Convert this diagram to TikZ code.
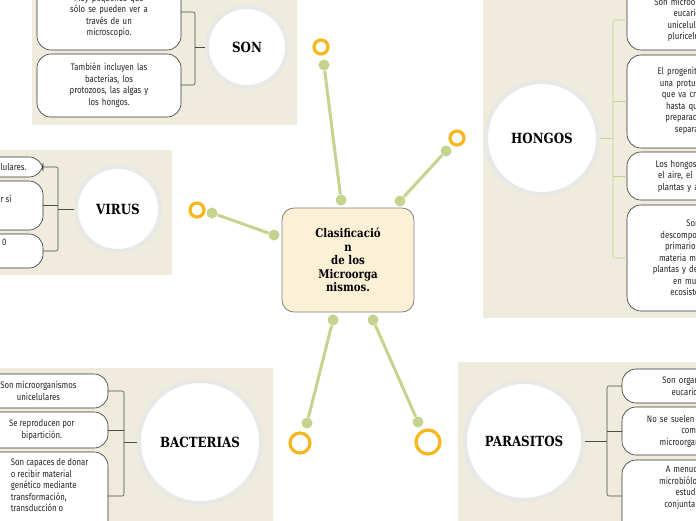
\documentclass[tikz,border=0pt]{standalone}
\usepackage{fontspec}
\setmainfont[FakeStretch=0.82]{Fira Sans}
\newfontfamily\headfont[FakeStretch=0.85]{DejaVu Serif}
\definecolor{panel}{HTML}{EFECDD}
\definecolor{cen}{HTML}{FCF0D6}
\definecolor{grn}{HTML}{C4D48F}
\definecolor{org}{HTML}{F7B61C}
\definecolor{ring}{HTML}{E8E8E6}
\tikzset{
 x=1pt,y=-1pt,
 pan/.style={fill=panel,draw=none},
 circ/.style={circle,fill=white,draw=ring,line width=4pt,minimum size=#1,font=\headfont\bfseries\fontsize{14}{14}\selectfont},
 tbox/.style={draw=black!80,fill=white,rounded corners=14pt,line width=0.6pt},
 tx/.style={align=center,font=\fontsize{9.5}{11.5}\selectfont,text=black!85},
 br/.style={draw=black!70,line width=0.6pt,rounded corners=2pt},
 brg/.style={draw=grn,line width=0.6pt,rounded corners=2pt},
 link/.style={draw=grn,line width=3pt},
 dot/.style={circle,fill=grn,inner sep=0,minimum size=11pt},
 orng/.style={circle,draw=org,line width=3.2pt,inner sep=0,minimum size=#1},
}
\begin{document}
\begin{tikzpicture}
\useasboundingbox (0,0) rectangle (696,520);
\clip (0,0) rectangle (696,520);
% SON
\fill[pan] (32,-5) rectangle (297,125);
\draw[tbox] (37,-40) rectangle (181,50);
\node[tx,text width=130pt] (s1) at (109,16) {Muy pequeños que\\sólo se pueden ver a\\través de un\\microscopio.};
\draw[tbox] (37,54) rectangle (181,117);
\node[tx,text width=130pt] (s2) at (109,85) {También incluyen las\\bacterias, los\\protozoos, las algas y\\los hongos.};
\node[circ=80pt] (son) at (247,47) {SON};
\draw[br] (181,12) -| (195,85) -- (181,85); \draw[br] (195,47) -- (son.west);
% VIRUS
\fill[pan] (0,150) rectangle (172,275);
\draw[tbox] (-100,157) rectangle (43,177);
\node[tx,anchor=east] at (30,167) {Son acelulares.};
\draw[tbox] (-100,181) rectangle (43,230);
\node[tx,anchor=east] at (15,205) {No se reproducen por sí\\solos, son};
\draw[tbox] (-100,234) rectangle (43,268);
\node[tx,anchor=east] at (10,243) {Contienen ADN o ARN, 0};
\node[circ=84pt] (virus) at (118,209) {VIRUS};
\draw[br] (43,167) -| (58,251) -- (43,251); \draw[br] (43,205) -- (58,205); \draw[br] (58,209) -- (virus.west);
% HONGOS
\fill[pan] (483,-5) rectangle (696,318);
\draw[tbox] (627,-40) rectangle (760,50);
\node[tx,text width=120pt] at (693,20) {Son microorganismos\\eucariotas,\\unicelulares o\\pluricelulares.};
\draw[tbox] (627,55) rectangle (760,148);
\node[tx,text width=120pt] at (693,101) {El progenitor forma\\una protuberancia\\que va creciendo\\hasta que está\\preparada para\\separarse.};
\draw[tbox] (627,152) rectangle (760,200);
\node[tx,text width=120pt] at (693,176) {Los hongos viven en\\el aire, el agua, las\\plantas y animales.};
\draw[tbox] (627,205) rectangle (760,311);
\node[tx,text width=120pt] at (693,258) {Son\\descomponedores\\primarios de la\\materia muerta de\\plantas y de animales\\en muchos\\ecosistemas.};
\node[circ=112pt] (hongos) at (542,138) {HONGOS};
\draw[brg] (627,20) -| (613,258) -- (627,258); \draw[brg] (627,101) -- (613,101); \draw[brg] (627,176) -- (613,176); \draw[brg] (613,138) -- (hongos.east);
% BACTERIAS
\fill[pan] (0,368) rectangle (273,525);
\draw[tbox] (-100,374) rectangle (108,408);
\node[tx,anchor=east] at (80,391) {Son microorganismos\\unicelulares};
\draw[tbox] (-100,412) rectangle (108,448);
\node[tx,anchor=east] at (78,430) {Se reproducen por\\bipartición.};
\draw[tbox] (-100,452) rectangle (108,560);
\node[tx,anchor=north east,align=left] at (92,455) {Son capaces de donar\\o recibir  material\\genético mediante\\transformación,\\transducción o};
\node[circ=122pt] (bact) at (200,442) {BACTERIAS};
\draw[br] (108,391) -| (124,496) -- (108,496); \draw[br] (108,430) -- (124,430); \draw[br] (124,442) -- (bact.west);
% PARASITOS
\fill[pan] (458,362) rectangle (696,525);
\draw[tbox] (622,369) rectangle (760,403);
\node[tx,text width=130pt] at (691,386) {Son organismos\\eucariotas.};
\draw[tbox] (622,407) rectangle (760,455);
\node[tx,text width=130pt] at (691,431) {No se suelen considerar\\como\\microorganismos.};
\draw[tbox] (622,460) rectangle (760,560);
\node[tx,text width=130pt,anchor=north] at (691,462) {A menudo los\\microbiólogos los\\estudian\\conjuntamente};
\node[circ=118pt] (para) at (524,441) {PARASITOS};
\draw[br] (622,386) -| (607,496) -- (622,496); \draw[br] (622,431) -- (607,431); \draw[br] (607,441) -- (para.east);
% CENTER
\node[draw=black!50,fill=cen,rounded corners=12pt,line width=0.8pt,minimum width=132pt,minimum height=104pt,align=center,font=\headfont\bfseries\fontsize{12}{13.5}\selectfont] (c) at (348,260) {Clasificació\\n\\de los\\Microorga\\nismos.};
% links
\node[dot] (a1) at (341,200) {}; \node[dot] (a2) at (324,65) {}; \draw[link] (a1) -- (a2); \node[orng=14pt] at (321,47) {};
\node[dot] (b1) at (400,201) {}; \node[dot] (b2) at (446,151) {}; \draw[link] (b1) -- (b2); \node[orng=14pt] at (457,138) {};
\node[dot] (d1) at (274,235) {}; \node[dot] (d2) at (212,213) {}; \draw[link] (d1) -- (d2); \node[orng=14pt] at (197,210) {};
\node[dot] (e1) at (333,320) {}; \node[dot] (e2) at (307,423) {}; \draw[link] (e1) -- (e2); \node[orng=20pt] at (300,443) {};
\node[dot] (f1) at (373,320) {}; \node[dot] (f2) at (418,422) {}; \draw[link] (f1) -- (f2); \node[orng=24pt] at (428,442) {};
\end{tikzpicture}
\end{document}
